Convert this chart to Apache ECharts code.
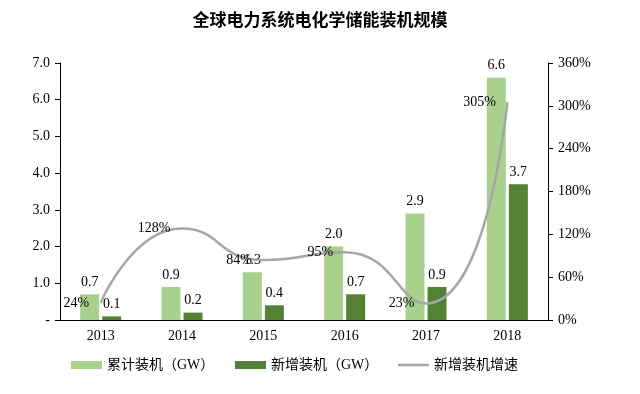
<!DOCTYPE html>
<html><head><meta charset="utf-8">
<script src="https://cdn.jsdelivr.net/npm/echarts@6/dist/echarts.min.js"></script>
<style>html,body{margin:0;padding:0;background:#fff}#c{width:640px;height:394px}</style>
</head><body><div id="c"></div>
<script>
const years = ['2013','2014','2015','2016','2017','2018'];
const cumulative = [0.7, 0.9, 1.3, 2.0, 2.9, 6.6];
const added = [0.1, 0.2, 0.4, 0.7, 0.9, 3.7];
const growth = [24, 128, 84, 95, 23, 305];
const leftTicks = [0,1,2,3,4,5,6,7];
const rightTicks = [0,60,120,180,240,300,360];

const serif = '"Liberation Serif","Times New Roman","Noto Sans CJK SC",serif';
const cjk = '"Liberation Serif","Noto Sans CJK SC",serif';
const chart = echarts.init(document.getElementById('c'), null, {renderer:'canvas'});
const lbl = {show:true, position:'top', color:'#000', fontFamily:serif, fontSize:14, formatter: p => p.value.toFixed(1)};
const legText = {fontFamily:cjk, fontSize:14, color:'#000'};
chart.setOption({
  animation:false,
  title:{text:'全球电力系统电化学储能装机规模', left:'center', top:6,
    textStyle:{fontFamily:'"Noto Sans CJK SC",sans-serif', fontSize:17, fontWeight:'bold', color:'#000'}},
  grid:{left:60, right:92, top:63, bottom:74},
  legend:[
    {data:['累计装机（GW）'], left:71, top:358, padding:0, itemWidth:31, itemHeight:8, itemGap:3, icon:'rect', textStyle:legText},
    {data:['新增装机（GW）'], left:235, top:358, padding:0, itemWidth:31, itemHeight:8, icon:'rect', textStyle:legText},
    {data:['新增装机增速'], left:398, top:358, padding:0, itemWidth:31, itemHeight:2.5, icon:'rect', textStyle:legText}
  ],
  xAxis:{type:'category', data:years,
    axisLine:{lineStyle:{color:'#000', width:1}}, axisTick:{show:false},
    axisLabel:{color:'#000', fontFamily:serif, fontSize:14, margin:9}},
  yAxis:[
    {type:'value', min:0, max:7, interval:1, splitLine:{show:false},
     axisLine:{show:true, lineStyle:{color:'#000'}}, axisTick:{show:true, length:5, lineStyle:{color:'#000'}},
     axisLabel:{color:'#000', fontFamily:serif, fontSize:14, margin:10,
       formatter: v => v===0 ? '-' : v.toFixed(1)}},
    {type:'value', min:0, max:360, interval:60, splitLine:{show:false},
     axisLine:{show:true, lineStyle:{color:'#000'}}, axisTick:{show:true, length:5, lineStyle:{color:'#000'}},
     axisLabel:{color:'#000', fontFamily:serif, fontSize:14, margin:10, formatter: v => v+'%'}}
  ],
  series:[
    {name:'累计装机（GW）', type:'bar', data:cumulative, barWidth:19, barGap:'16%',
     itemStyle:{color:'#a9d18e'}, label:lbl},
    {name:'新增装机（GW）', type:'bar', data:added, barWidth:19,
     itemStyle:{color:'#548235'}, label:lbl},
    {name:'新增装机增速', type:'line', yAxisIndex:1, data:growth, smooth:0.55,
     symbol:'circle', symbolSize:1, showSymbol:true,
     lineStyle:{color:'#a6a6a6', width:2.5}, itemStyle:{color:'#a6a6a6'},
     label:{show:true, position:'left', distance:11, color:'#000', fontFamily:serif, fontSize:14,
       formatter: p => p.value+'%'}}
  ]
});
</script></body></html>
